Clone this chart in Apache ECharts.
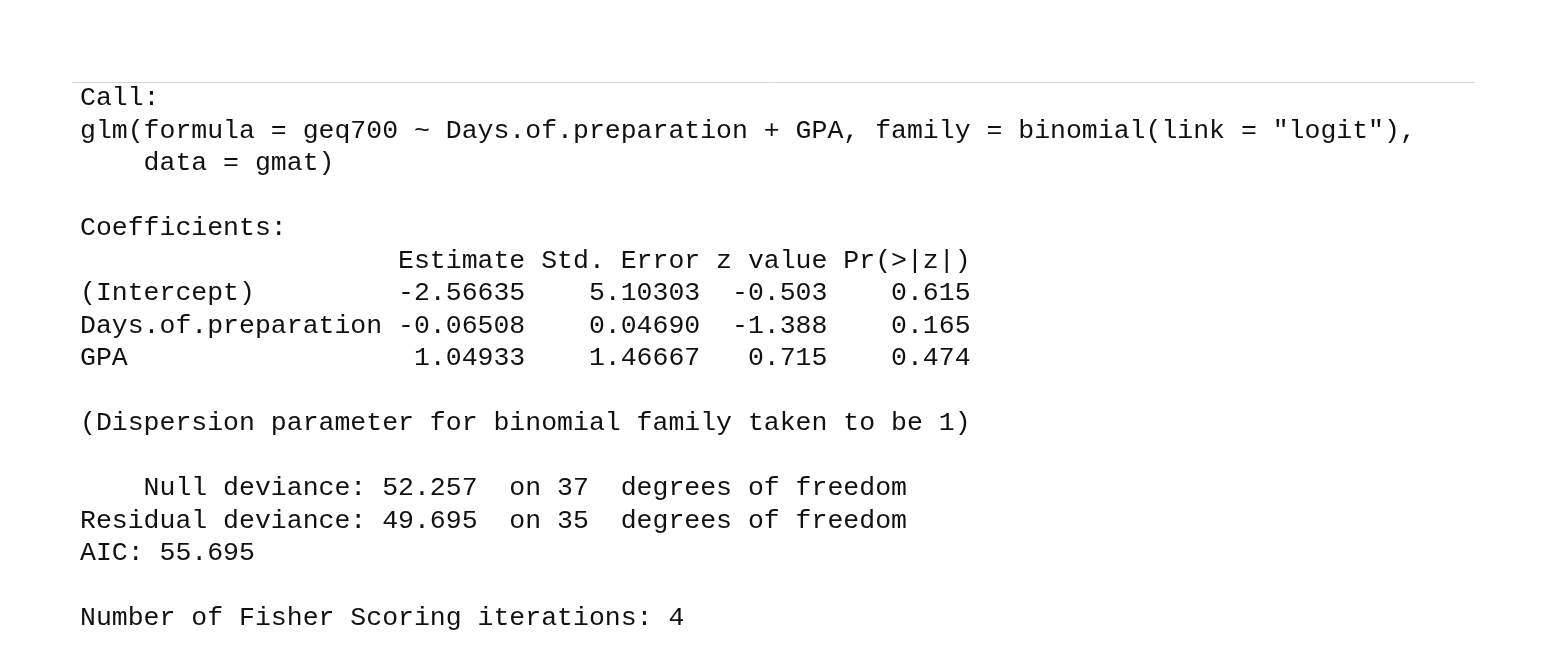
<!DOCTYPE html>
<html><head><meta charset="utf-8">
<script src="https://cdn.jsdelivr.net/npm/echarts@6/dist/echarts.min.js"></script>
<style>html,body{margin:0;background:#fff}#c{width:1552px;height:670px}</style>
</head><body><div id="c"></div>
<script>
const rowNames = ["(Intercept)", "Days.of.preparation", "GPA"];
const estimates = ["-2.56635", "-0.06508", "1.04933"];
const stdErrors = ["5.10303", "0.04690", "1.46667"];
const zValues = ["-0.503", "-1.388", "0.715"];
const pValues = ["0.615", "0.165", "0.474"];
const colHeaders = ["Estimate", "Std. Error", "z value", "Pr(>|z|)"];
const nullDev = ["52.257", "37"];
const residDev = ["49.695", "35"];
const aic = "55.695";
const fisherIter = 4;

const W = 20;
const widths = [8, 11, 8, 9];
function row(name, vals){
  let s = name.padEnd(W, " ");
  vals.forEach((v,i)=>{ s += (i===0 ? v.padStart(widths[0]) : v.padStart(widths[i])); });
  return s;
}
const lines = [
  "Call:",
  'glm(formula = geq700 ~ Days.of.preparation + GPA, family = binomial(link = "logit"),',
  "    data = gmat)",
  "",
  "Coefficients:",
  row("", colHeaders.map((h,i)=> i===0 ? h : " " + h)),
];
rowNames.forEach((n,i)=>{
  lines.push(row(n, [estimates[i], stdErrors[i], zValues[i], pValues[i]]));
});
lines.push("", "(Dispersion parameter for binomial family taken to be 1)", "",
  "    Null deviance: " + nullDev[0] + "  on " + nullDev[1] + "  degrees of freedom",
  "Residual deviance: " + residDev[0] + "  on " + residDev[1] + "  degrees of freedom",
  "AIC: " + aic, "",
  "Number of Fisher Scoring iterations: " + fisherIter);

const graphic = [{type:'line', shape:{x1:72,y1:82.5,x2:1475,y2:82.5}, style:{stroke:'#d8d8d8', lineWidth:1}}];
lines.forEach((l,i)=>{
  graphic.push({type:'text', x:80, y:98 + i*32.5, style:{text:l, font:'26.5px "Liberation Mono", "DejaVu Sans Mono", monospace', fill:'#111', textVerticalAlign:'middle', whiteSpace:'pre'}});
});
const chart = echarts.init(document.getElementById('c'));
chart.setOption({backgroundColor:'#fff', graphic});
</script></body></html>
